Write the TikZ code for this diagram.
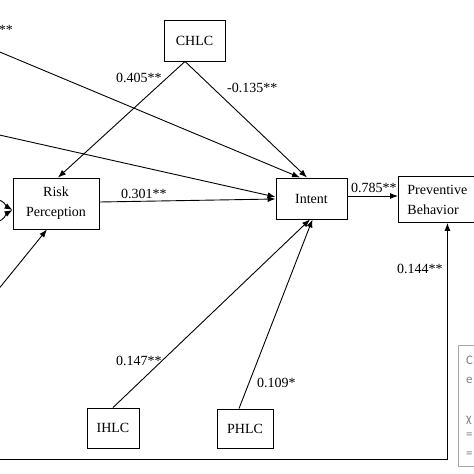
\documentclass[tikz,border=0pt]{standalone}
\usepackage{fontspec}
\setmainfont{Liberation Serif}
\newfontfamily\legendfont{Carlito}
\usetikzlibrary{arrows.meta}
\begin{document}
\begin{tikzpicture}[x=1pt,y=-1pt,
  box/.style={draw, line width=0.9pt, inner sep=0pt, align=center, font=\fontsize{14}{20}\selectfont},
  arr/.style={-{Latex[length=8pt,width=6pt]}, line width=0.9pt},
  lbl/.style={anchor=base west, inner sep=0pt, font=\fontsize{14}{16}\selectfont},
  legtxt/.style={anchor=west, inner sep=0pt, text=gray, font=\legendfont\fontsize{13}{14}\selectfont}]
\useasboundingbox (0,0) rectangle (474,474);
\clip (0,0) rectangle (474,474);

% nodes
\node[box, minimum width=86pt, minimum height=51pt] (RP) at (56,203.5) {Risk\\Perception};
\node[box, minimum width=61pt, minimum height=41pt] (CHLC) at (194.5,40.5) {CHLC};
\node[box, minimum width=71pt, minimum height=41pt] (INT) at (311.5,198.5) {Intent};
\node[box, anchor=north west, minimum height=46pt, text width=70pt, inner xsep=9pt, align=left] (PB) at (398,176) {Preventive\\Behavior};
\node[box, minimum width=52pt, minimum height=40pt] (IHLC) at (113,428) {IHLC};
\node[box, minimum width=56pt, minimum height=39pt] (PHLC) at (245,428.5) {PHLC};
\node[draw=gray!70, line width=0.8pt, anchor=north west, minimum width=30pt, minimum height=121pt, inner sep=0pt] (LG) at (458,345) {};

% free ends
\coordinate (L1) at (-5,50);
\coordinate (L2) at (-5,134);
\coordinate (L3) at (-3,200);
\coordinate (L4) at (-3,221);
\coordinate (L5) at (-3,291);
\coordinate (F0) at (-5,459);

% connectors
\draw[arr] ([xshift=-9.5pt]CHLC.south) -- ([xshift=2pt]RP.north);
\draw[arr] ([xshift=-9.5pt]CHLC.south) -- ([xshift=-4.5pt]INT.north);
\draw[arr] (L1) -- ([xshift=-11.5pt]INT.north);
\draw[arr] (L2) -- ([yshift=1.5pt]INT.west);
\draw[arr] ([yshift=1.5pt]RP.east) -- ([yshift=-0.5pt]INT.west);
\coordinate (IA) at ([yshift=2.5pt]INT.east);
\draw[arr] (IA) -- (IA -| PB.west);
\draw[arr] (IHLC.north) -- ([xshift=-1.5pt]INT.south);
\draw[arr] ([xshift=-6pt]PHLC.north) -- ([xshift=1pt]INT.south);
\draw[arr] (F0) -| ([xshift=5pt]PB.south);
\draw[arr] (L3) to[out=0,in=150] ([yshift=-6.5pt]RP.west);
\draw[arr] (L4) to[out=0,in=210] ([yshift=-6.5pt]RP.west);
\draw[arr] (L5) -- ([xshift=-9pt]RP.south);

% labels
\node[lbl, anchor=base east] at (13,34) {**};
\node[lbl] at (116,82) {0.405**};
\node[lbl] at (227,92) {-0.135**};
\node[lbl] at (121,198) {0.301**};
\node[lbl] at (351,192) {0.785**};
\node[lbl] at (397,273) {0.144**};
\node[lbl] at (116,365) {0.147**};
\node[lbl] at (257,387) {0.109*};

% legend fragments
\node[legtxt] at (466,360) {C};
\node[legtxt] at (466,380) {e};
\node[legtxt] at (466,420) {χ};
\node[legtxt] at (466,436) {=};
\node[legtxt] at (466,455) {=};
\end{tikzpicture}
\end{document}
